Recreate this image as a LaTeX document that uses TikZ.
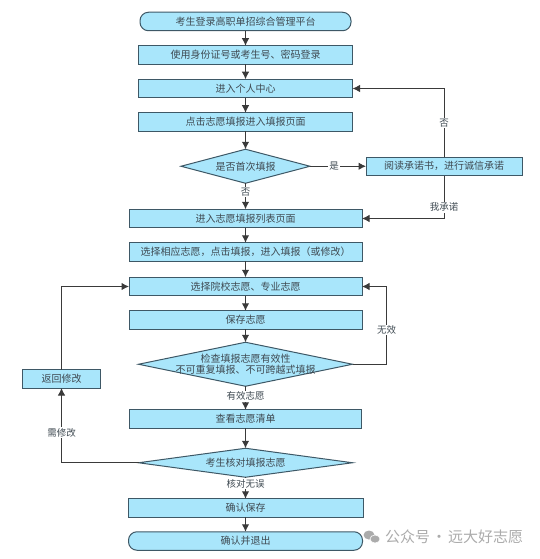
\documentclass[tikz,border=0pt]{standalone}
\usepackage{fontspec}
\setmainfont{Noto Sans CJK SC}
\usetikzlibrary{arrows.meta, positioning, shapes.geometric}
\definecolor{boxfill}{HTML}{A9E6FB}
\definecolor{boxline}{HTML}{3E5866}
\definecolor{inkline}{HTML}{3A3A3A}
\definecolor{inktext}{HTML}{3F4A52}
\definecolor{markgray}{HTML}{ABABAB}
\tikzset{
    box/.style={
        draw=boxline,
        fill=boxfill,
        line width=1pt,
        minimum width=214pt,
        minimum height=18.5pt,
        inner sep=0pt,
        outer sep=0pt,
        align=center,
        text=inktext,
        font=\fontsize{10}{10.5}\selectfont
    },
    endbox/.style={
        box,
        rounded corners=8.5pt
    },
    choice/.style={
        diamond,
        draw=boxline,
        fill=boxfill,
        line width=1pt,
        inner sep=0pt,
        outer sep=0pt
    },
    every label/.style={
        align=center,
        text=inktext,
        font=\fontsize{10}{10.5}\selectfont
    },
    line/.style={-{Latex[length=7.5pt,width=7.5pt]}, line width=1pt, draw=inkline},
    tag/.style={
        fill=white,
        inner sep=1pt,
        text=inktext,
        font=\fontsize{9.5}{10}\selectfont
    },
    watermark/.style={
        text=markgray,
        inner sep=0pt,
        font=\fontsize{15}{15}\selectfont
    }
}

\begin{document}
\begin{tikzpicture}[x=1pt, y=1pt]
\useasboundingbox (0,0) rectangle (539,-559);

\node[endbox, minimum width=211pt] (start) at (245.5,-21.5) {考生登录高职单招综合管理平台};
\node[box, below=15pt of start] (login) {使用身份证号或考生号、密码登录};
\node[box, below=15pt of login] (center) {进入个人中心};
\node[box, below=15pt of center] (click) {点击志愿填报进入填报页面};
\node[choice, minimum width=129pt, minimum height=34pt, below=18pt of click,
    label={center:是否首次填报}] (first) {};
\node[box, minimum width=156pt, right=56pt of first] (read) {阅读承诺书，进行诚信承诺};
\node[box, minimum width=233pt, below=26pt of first] (listpage) {进入志愿填报列表页面};
\node[box, minimum width=233pt, below=15pt of listpage] (pick) {选择相应志愿，点击填报，进入填报（或修改）};
\node[box, minimum width=233pt, below=16pt of pick] (school) {选择院校志愿、专业志愿};
\node[box, minimum width=233pt, below=15pt of school] (save) {保存志愿};
\node[choice, minimum width=214pt, minimum height=44pt, below=13pt of save,
    label={center:检查填报志愿有效性\\不可重复填报、不可跨越式填报}] (check) {};
\node[box, minimum width=232pt, below=23.5pt of check] (view) {查看志愿清单};
\node[choice, minimum width=214pt, minimum height=29pt, below=20pt of view,
    label={center:考生核对填报志愿}] (verify) {};
\node[box, minimum width=235pt, below=21.5pt of verify] (confirm) {确认保存};
\node[endbox, minimum width=234pt, below=14.5pt of confirm] (finish) {确认并退出};
\node[box, minimum width=78pt, left=38pt of check, yshift=-14.5pt] (back) {返回修改};
\coordinate[right=34pt of check.east] (bend);

\draw[line] (start) -- (login);
\draw[line] (login) -- (center);
\draw[line] (center) -- (click);
\draw[line] (click) -- (first);
\draw[line] (first) -- node[tag, pos=0.43] {是} (read);
\draw[line] (first) -- node[tag, pos=0.35] {否} (listpage);
\draw[line] (read.north) |- node[tag, pos=0.25] {否} (center.east);
\draw[line] (read.south) |- node[tag, pos=0.37] {我承诺} (listpage.east);
\draw[line] (listpage) -- (pick);
\draw[line] (pick) -- (school);
\draw[line] (school) -- (save);
\draw[line] (save) -- (check);
\draw[line] (check.east) -- (bend) |- node[tag, pos=0.22] {无效} (school.east);
\draw[line] (check) -- node[tag, pos=0.42] {有效志愿} (view);
\draw[line] (view) -- (verify);
\draw[line] (verify.west) -| node[tag, pos=0.7] {需修改} (back.south);
\draw[line] (back.north) |- (school.west);
\draw[line] (verify) -- node[tag, pos=0.3] {核对无误} (confirm);
\draw[line] (confirm) -- (finish);

\node[watermark, anchor=west] (mark) at (385,-537) {\spaceskip=1.5pt\relax 公众号 · 远大好志愿};
\fill[markgray] (369,-535) ellipse (5.5 and 4.5);
\fill[markgray, draw=white, line width=0.6pt] (375,-539) ellipse (5 and 4);

\end{tikzpicture}
\end{document}
